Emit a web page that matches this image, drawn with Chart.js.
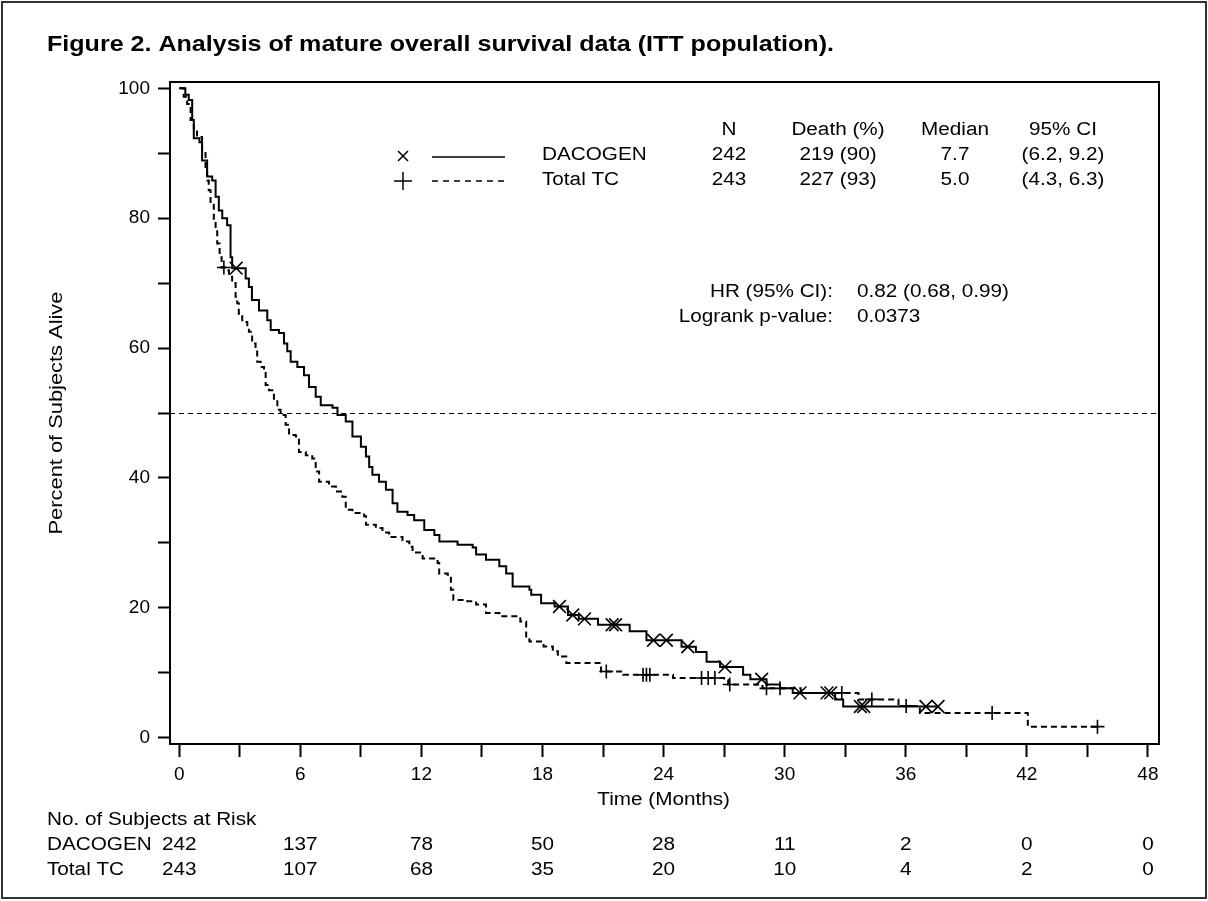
<!DOCTYPE html>
<html>
<head>
<meta charset="utf-8">
<script src="https://cdn.jsdelivr.net/npm/chart.js@4/dist/chart.umd.min.js"></script>
<style>
  body { margin: 0; background: #fff; }
  canvas { display: block; }
</style>
</head>
<body>
<canvas id="myChart" width="1208" height="901"></canvas>
<script>
// KM steps: [month, percent alive]
const dacogenSteps = [
  [0, 100], [0.3, 99], [0.47, 98.2], [0.64, 95.1], [0.72, 92.3], [1.0, 91.7],
  [1.13, 88.9], [1.38, 86.4], [1.63, 85.8], [1.8, 83.3], [1.96, 81.2], [2.13, 80.0],
  [2.37, 78.9], [2.54, 74.0], [2.62, 72.3], [3.29, 70.7], [3.45, 69.4], [3.6, 67.4],
  [3.95, 65.8], [4.36, 64.3], [4.53, 62.8], [4.94, 62.3], [5.19, 60.7], [5.35, 59.5],
  [5.52, 57.9], [5.85, 57.1], [6.18, 55.8], [6.43, 54.0], [6.76, 52.5], [7.01, 51.2],
  [7.59, 50.8], [7.84, 49.7], [8.25, 48.7], [8.58, 46.4], [9.0, 44.8], [9.25, 43.3],
  [9.41, 41.7], [9.57, 40.5], [9.9, 39.4], [10.24, 38.2], [10.57, 36.1], [10.81, 34.8],
  [11.31, 34.3], [11.64, 33.5], [12.14, 32.0], [12.64, 31.2], [12.89, 30.2], [13.79, 29.7],
  [14.54, 29.3], [14.71, 28.2], [15.2, 27.4], [15.86, 26.4], [16.2, 25.3], [16.52, 23.3],
  [17.35, 22.8], [17.44, 22.0], [17.93, 20.7], [18.6, 20.2], [19.26, 18.9], [19.8, 18.3],
  [20.75, 17.4], [22.32, 16.4], [23.15, 15.0], [24.89, 14.0], [25.6, 13.2], [26.13, 11.7],
  [26.8, 10.9], [27.94, 9.7], [28.3, 9.0], [29.1, 8.2], [29.77, 7.6], [30.4, 6.9],
  [32.5, 5.9], [32.9, 4.8], [37.6, 4.8]
];
const tcSteps = [
  [0, 100], [0.22, 98.7], [0.39, 97.6], [0.56, 95.1], [0.72, 93.8], [0.88, 92.5],
  [1.13, 90.2], [1.3, 87.4], [1.38, 85.8], [1.46, 84.3], [1.55, 82.3], [1.71, 79.7],
  [1.8, 78.2], [1.88, 76.1], [2.0, 74.0], [2.1, 72.4], [2.37, 72.0], [2.46, 71.0],
  [2.62, 70.0], [2.79, 67.9], [2.87, 66.9], [2.95, 65.3], [3.12, 64.0], [3.37, 63.3],
  [3.45, 62.5], [3.61, 60.7], [3.78, 60.0], [3.86, 57.9], [4.03, 57.1], [4.2, 56.4],
  [4.28, 54.3], [4.44, 53.5], [4.69, 52.0], [4.86, 50.5], [5.02, 49.7], [5.27, 48.2],
  [5.44, 46.6], [5.77, 46.4], [5.93, 44.0], [6.27, 43.5], [6.59, 43.0], [6.76, 41.0],
  [6.93, 39.4], [7.42, 38.7], [7.76, 37.9], [8.08, 37.1], [8.25, 35.1], [8.58, 34.6],
  [9.16, 34.1], [9.25, 32.8], [9.74, 32.3], [10.07, 31.6], [10.4, 30.9], [11.06, 30.2],
  [11.4, 29.4], [11.56, 28.5], [12.06, 27.6], [12.8, 26.9], [12.88, 25.3], [13.3, 25.1],
  [13.46, 22.8], [13.58, 21.2], [14.04, 21.0], [14.71, 20.5], [15.2, 19.2], [15.86, 18.7],
  [16.9, 17.9], [17.19, 15.4], [17.35, 14.8], [18.05, 14.05], [18.51, 13.3], [18.76, 12.5],
  [19.18, 11.5], [20.9, 10.2], [22.0, 9.7], [24.47, 9.2], [27.0, 8.9], [27.2, 8.2],
  [28.9, 7.6], [30.8, 6.9], [33.66, 5.9], [35.64, 4.9], [36.7, 3.8], [42.05, 1.7],
  [45.5, 1.7]
];

// censored subjects
const dacogenCensored = [
  [2.82, 72.3], [18.84, 20.2], [19.5, 18.9], [20.08, 18.3], [21.45, 17.4], [21.62, 17.4],
  [23.5, 15.0], [24.14, 15.0], [25.2, 14.0], [27.04, 10.9], [28.86, 9.0], [30.76, 6.9],
  [32.1, 6.9], [32.28, 6.9], [33.75, 4.8], [33.92, 4.8], [37.0, 4.8], [37.6, 4.8]
];
const tcCensored = [
  [2.21, 72.4], [21.16, 10.2], [22.98, 9.7], [23.15, 9.7], [23.32, 9.7], [25.88, 9.2],
  [26.21, 9.2], [26.54, 9.2], [27.28, 8.2], [29.1, 7.6], [29.77, 7.6], [32.83, 6.9],
  [34.32, 5.9], [36.02, 4.9], [40.28, 3.8], [45.5, 1.7]
];

const xTicks = [0, 3, 6, 9, 12, 15, 18, 21, 24, 27, 30, 33, 36, 39, 42, 45, 48];
const yTicks = [0, 10, 20, 30, 40, 50, 60, 70, 80, 90, 100];

const riskMonths = [0, 6, 12, 18, 24, 30, 36, 42, 48];
const riskDacogen = [242, 137, 78, 50, 28, 11, 2, 0, 0];
const riskTC = [243, 107, 68, 35, 20, 10, 4, 2, 0];

const legendHeader = ["N", "Death (%)", "Median", "95% CI"];
const legendDacogen = ["242", "219 (90)", "7.7", "(6.2, 9.2)"];
const legendTC = ["243", "227 (93)", "5.0", "(4.3, 6.3)"];

const FONT = "'Liberation Sans', Arial, Helvetica, sans-serif";
const WIDEN = 1.15; // the original lettering runs a bit wider than Liberation Sans

function pts(arr) {
  return arr.map((p) => ({ x: p[0], y: p[1] }));
}

function text(ctx, s, x, y, align) {
  ctx.save();
  ctx.translate(x, y);
  ctx.scale(WIDEN, 1);
  ctx.textAlign = align;
  ctx.fillText(s, 0, 0);
  ctx.restore();
}

const decorations = {
  id: "decorations",
  beforeDatasetsDraw(chart) {
    const ctx = chart.ctx;
    const a = chart.chartArea;
    const y50 = Math.round(chart.scales.y.getPixelForValue(50)) + 0.5;
    ctx.save();
    ctx.strokeStyle = "#000";
    ctx.lineWidth = 1;
    ctx.setLineDash([5, 4]);
    ctx.beginPath();
    ctx.moveTo(a.left, y50);
    ctx.lineTo(a.right, y50);
    ctx.stroke();
    ctx.restore();
  },
  afterDraw(chart) {
    const ctx = chart.ctx;
    const a = chart.chartArea;
    const xs = chart.scales.x;
    ctx.save();

    // outer border
    ctx.strokeStyle = "#333";
    ctx.lineWidth = 2;
    ctx.strokeRect(2, 2, 1204, 896);

    // plot frame
    ctx.strokeStyle = "#000";
    ctx.lineWidth = 2;
    ctx.strokeRect(a.left, a.top, a.right - a.left, a.bottom - a.top);

    ctx.fillStyle = "#000";
    ctx.textBaseline = "middle";

    // title
    ctx.font = "bold 21.8px " + FONT;
    text(ctx, "Figure 2. Analysis of mature overall survival data (ITT population).", 47, 45, "left");

    ctx.font = "18px " + FONT;

    // axis titles
    text(ctx, "Time (Months)", (xs.getPixelForValue(0) + xs.getPixelForValue(48)) / 2, 800, "center");
    ctx.save();
    ctx.translate(57, 413);
    ctx.rotate(-Math.PI / 2);
    ctx.font = "19px " + FONT;
    text(ctx, "Percent of Subjects Alive", 0, 0, "center");
    ctx.restore();

    // legend table
    const cols = [729, 838, 955, 1063];
    legendHeader.forEach((t, i) => text(ctx, t, cols[i], 130, "center"));
    legendDacogen.forEach((t, i) => text(ctx, t, cols[i], 155, "center"));
    legendTC.forEach((t, i) => text(ctx, t, cols[i], 180, "center"));
    text(ctx, "DACOGEN", 542, 155, "left");
    text(ctx, "Total TC", 542, 180, "left");

    ctx.lineWidth = 1.5;
    ctx.beginPath();
    ctx.moveTo(398, 151); ctx.lineTo(408, 161);
    ctx.moveTo(408, 151); ctx.lineTo(398, 161);
    ctx.moveTo(394, 181); ctx.lineTo(412, 181);
    ctx.moveTo(403, 172); ctx.lineTo(403, 190);
    ctx.stroke();

    ctx.beginPath();
    ctx.moveTo(432, 157); ctx.lineTo(505, 157);
    ctx.stroke();
    ctx.setLineDash([6, 5]);
    ctx.beginPath();
    ctx.moveTo(432, 181); ctx.lineTo(505, 181);
    ctx.stroke();
    ctx.setLineDash([]);

    // hazard ratio
    text(ctx, "HR (95% CI):", 833, 292, "right");
    text(ctx, "Logrank p-value:", 833, 317, "right");
    text(ctx, "0.82 (0.68, 0.99)", 857, 292, "left");
    text(ctx, "0.0373", 857, 317, "left");

    // number at risk
    text(ctx, "No. of Subjects at Risk", 47, 820, "left");
    text(ctx, "DACOGEN", 47, 845, "left");
    text(ctx, "Total TC", 47, 870, "left");
    riskMonths.forEach((m, i) => {
      const px = xs.getPixelForValue(m);
      text(ctx, String(riskDacogen[i]), px, 845, "center");
      text(ctx, String(riskTC[i]), px, 870, "center");
    });

    ctx.restore();
  },
};

const data = {
  datasets: [
    {
      label: "DACOGEN",
      data: pts(dacogenSteps),
      showLine: true,
      stepped: "before",
      borderColor: "#000",
      borderWidth: 2,
      pointRadius: 0,
      fill: false,
    },
    {
      label: "Total TC",
      data: pts(tcSteps),
      showLine: true,
      stepped: "before",
      borderColor: "#000",
      borderWidth: 2,
      borderDash: [6, 4],
      pointRadius: 0,
      fill: false,
    },
    {
      label: "DACOGEN censored",
      data: pts(dacogenCensored),
      showLine: false,
      pointStyle: "crossRot",
      pointRadius: 9,
      pointBorderColor: "#000",
      pointBorderWidth: 1.6,
    },
    {
      label: "Total TC censored",
      data: pts(tcCensored),
      showLine: false,
      pointStyle: "cross",
      pointRadius: 7,
      pointBorderColor: "#000",
      pointBorderWidth: 1.6,
    },
  ],
};

const config = {
  type: "scatter",
  data: data,
  options: {
    responsive: false,
    animation: false,
    layout: {
      padding: { left: 0, right: 49, top: 82, bottom: 107 },
    },
    plugins: {
      legend: { display: false },
      title: { display: false },
      tooltip: { enabled: false },
    },
    scales: {
      x: {
        type: "linear",
        min: -0.46,
        max: 48.55,
        afterBuildTicks: (scale) => {
          scale.ticks = xTicks.map((v) => ({ value: v }));
        },
        afterFit: (scale) => {
          scale.height = 50;
        },
        ticks: {
          autoSkip: false,
          maxRotation: 0,
          padding: 6,
          color: "#000",
          font: { family: FONT, size: 19 },
          callback: (v) => (v % 6 === 0 ? String(v) : ""),
        },
        grid: {
          drawOnChartArea: false,
          drawTicks: true,
          tickLength: 13,
          tickWidth: 2,
          tickColor: "#000",
        },
        border: { display: false },
      },
      y: {
        type: "linear",
        min: -0.97,
        max: 100.97,
        afterBuildTicks: (scale) => {
          scale.ticks = yTicks.map((v) => ({ value: v }));
        },
        afterFit: (scale) => {
          scale.width = 170;
        },
        ticks: {
          autoSkip: false,
          padding: 8,
          color: "#000",
          font: { family: FONT, size: 19 },
          callback: (v) => (v % 20 === 0 ? String(v) : ""),
        },
        grid: {
          drawOnChartArea: false,
          drawTicks: true,
          tickLength: 12,
          tickWidth: 2,
          tickColor: "#000",
        },
        border: { display: false },
      },
    },
  },
  plugins: [decorations],
};

const myChart = new Chart(document.getElementById("myChart"), config);
</script>
</body>
</html>
